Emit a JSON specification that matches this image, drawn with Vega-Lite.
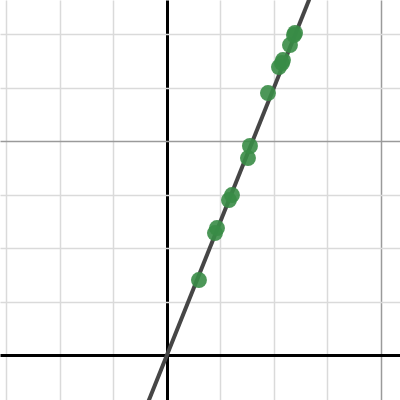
{
  "$schema": "https://vega.github.io/schema/vega-lite/v6.json",
  "autosize": {"type": "fit", "contains": "padding"},
  "width": 400,
  "height": 400,
  "padding": 0,
  "background": "white",
  "config": {"view": {"stroke": null}},
  "datasets": {
    "pts": [
      {"x": 0.598, "y": 1.402},
      {"x": 0.897, "y": 2.280},
      {"x": 0.935, "y": 2.374},
      {"x": 1.159, "y": 2.897},
      {"x": 1.215, "y": 2.991},
      {"x": 1.514, "y": 3.682},
      {"x": 1.551, "y": 3.907},
      {"x": 1.888, "y": 4.897},
      {"x": 2.093, "y": 5.383},
      {"x": 2.150, "y": 5.458},
      {"x": 2.168, "y": 5.514},
      {"x": 2.299, "y": 5.794},
      {"x": 2.374, "y": 5.981},
      {"x": 2.393, "y": 6.019}
    ],
    "fit": [
      {"x": -0.6, "y": -1.5},
      {"x": 2.8, "y": 7.0}
    ]
  },
  "layer": [
    {
      "data": {"name": "fit"},
      "mark": {"type": "line", "color": "#464646", "strokeWidth": 4, "clip": true},
      "encoding": {
        "x": {
          "field": "x", "type": "quantitative",
          "scale": {"domain": [-3.12, 4.355], "nice": false, "zero": false},
          "axis": {
            "values": [-3, -2, -1, 0, 1, 2, 3, 4],
            "labels": false, "ticks": false, "domain": false, "title": null,
            "grid": true,
            "gridColor": {"condition": [{"test": "datum.value === 0", "value": "#000000"}, {"test": "datum.value === 4", "value": "#9a9a9a"}], "value": "#dadada"},
            "gridWidth": {"condition": {"test": "datum.value === 0", "value": 3}, "value": 1.5},
            "gridOpacity": 1
          }
        },
        "y": {
          "field": "y", "type": "quantitative",
          "scale": {"domain": [-0.84, 6.636], "nice": false, "zero": false},
          "axis": {
            "values": [0, 1, 2, 3, 4, 5, 6],
            "labels": false, "ticks": false, "domain": false, "title": null,
            "grid": true,
            "gridColor": {"condition": [{"test": "datum.value === 0", "value": "#000000"}, {"test": "datum.value === 4", "value": "#9a9a9a"}], "value": "#dadada"},
            "gridWidth": {"condition": {"test": "datum.value === 0", "value": 3}, "value": 1.5},
            "gridOpacity": 1
          }
        }
      }
    },
    {
      "data": {"name": "pts"},
      "mark": {"type": "circle", "color": "#388c46", "opacity": 0.9, "size": 255},
      "encoding": {
        "x": {"field": "x", "type": "quantitative"},
        "y": {"field": "y", "type": "quantitative"}
      }
    }
  ]
}
